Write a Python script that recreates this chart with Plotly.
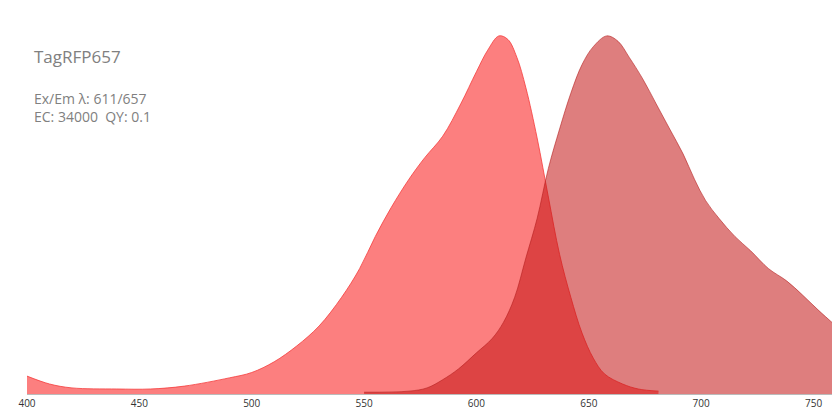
import plotly.graph_objects as go

ex_x = [400,410,420,440,455,470,490,500,510,520,530,540,548,555,562,570,577,585,593,600,605,610,614,618,622,627,632,637,642,647,652,657,665,672,681]
ex_y = [0.05,0.028,0.017,0.014,0.014,0.022,0.045,0.06,0.09,0.134,0.19,0.27,0.35,0.44,0.52,0.60,0.66,0.72,0.81,0.90,0.96,1.0,0.99,0.94,0.855,0.715,0.55,0.39,0.27,0.17,0.10,0.056,0.028,0.014,0.008]
em_x = [550,570,578,585,592,600,607,612,617,622,627,632,637,642,647,652,658,663,668,674,680,686,692,697,702,708,715,722,730,738,745,752,760]
em_y = [0.005,0.008,0.017,0.04,0.07,0.115,0.155,0.2,0.27,0.38,0.49,0.63,0.74,0.84,0.92,0.97,1.0,0.985,0.94,0.88,0.81,0.74,0.67,0.60,0.54,0.49,0.44,0.40,0.35,0.316,0.277,0.235,0.19]
x_ticks = [400,450,500,550,600,650,700,750]

fig = go.Figure()
fig.add_trace(go.Scatter(x=ex_x, y=ex_y, mode="lines", line=dict(color="rgba(245,60,60,0.8)", width=1, shape="spline"),
                         fill="tozeroy", fillcolor="rgba(250,0,0,0.5)", name="Ex"))
fig.add_trace(go.Scatter(x=em_x, y=em_y, mode="lines", line=dict(color="rgba(180,30,30,0.6)", width=1, shape="spline"),
                         fill="tozeroy", fillcolor="rgba(195,20,20,0.55)", name="Em"))
fig.update_layout(
    width=840, height=420, margin=dict(l=12, r=12, t=10, b=34),
    paper_bgcolor="white", plot_bgcolor="white", showlegend=False,
    font=dict(family="Open Sans, sans-serif"),
    xaxis=dict(range=[400,760], tickvals=x_ticks, showgrid=False, zeroline=False,
               showline=True, linecolor="#bbb", ticks="", tickfont=dict(size=10, color="#333")),
    yaxis=dict(range=[0,1.05], visible=False),
)
fig.add_annotation(x=0, y=1, xref="paper", yref="paper", xshift=5, yshift=-25, text="TagRFP657",
                   showarrow=False, xanchor="left", yanchor="top", font=dict(size=17, color="#808080"))
fig.add_annotation(x=0, y=1, xref="paper", yref="paper", xshift=5, yshift=-69, text="Ex/Em λ: 611/657<br>EC: 34000  QY: 0.1",
                   showarrow=False, xanchor="left", yanchor="top", align="left", font=dict(size=14, color="#808080"))
fig.write_html("out.html")
